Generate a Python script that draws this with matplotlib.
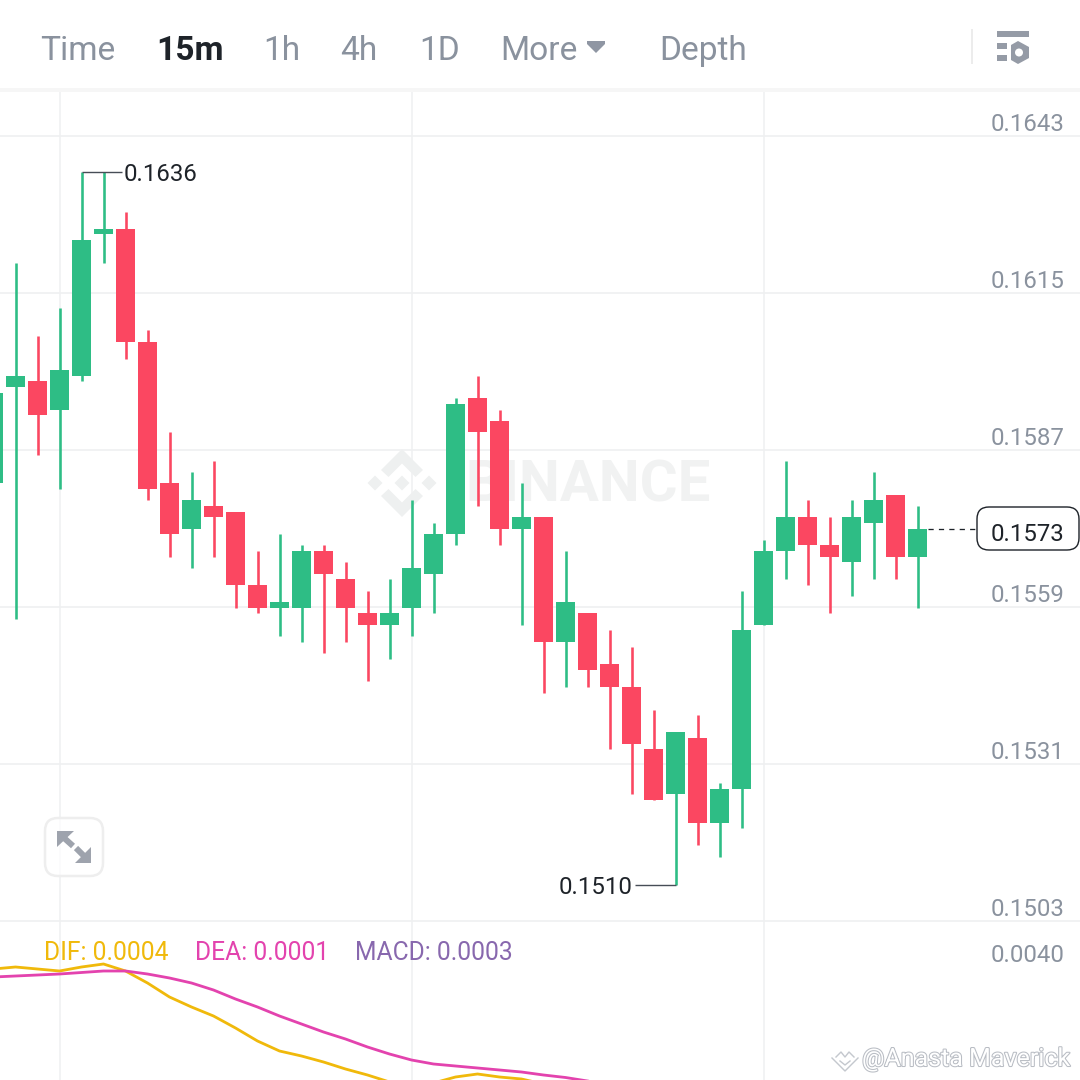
import matplotlib
matplotlib.use("Agg")
import matplotlib.pyplot as plt
import matplotlib.patheffects as pe
from matplotlib.patches import FancyBboxPatch, Polygon, Rectangle, Circle

plt.rcParams['font.family'] = ['Roboto', 'DejaVu Sans']

# ---------- data ----------
opens = [.1581, .1598, .1599, .1594, .1600, .1625, .1626, .1606, .1581, .1573, .1577, .1576, .1563, .1559,
         .1559, .1569, .1564, .1558, .1556, .1559, .1565, .1572, .1596, .1592, .1573, .1575, .1553, .1558,
         .1549, .1545, .1534, .1526, .1536, .1521, .1527, .1556, .1569, .1575, .1570, .1567, .1574, .1579, .1568]
closes = [.1597, .1600, .1593, .1601, .1624, .1626, .1606, .1580, .1572, .1578, .1575, .1563, .1559, .1560,
          .1569, .1565, .1559, .1556, .1558, .1566, .1572, .1595, .1590, .1573, .1575, .1553, .1560, .1548,
          .1545, .1535, .1525, .1537, .1521, .1527, .1555, .1569, .1575, .1570, .1568, .1575, .1578, .1568, .1573]
highs = [.1597, .1620, .1607, .1612, .1636, .1636, .1629, .1608, .1590, .1583, .1585, .1576, .1569, .1572,
         .1570, .1570, .1567, .1562, .1564, .1578, .1574, .1596, .1600, .1594, .1581, .1575, .1569, .1558,
         .1555, .1552, .1541, .1537, .1540, .1528, .1562, .1571, .1585, .1578, .1575, .1578, .1583, .1579, .1577]
lows = [.1581, .1557, .1586, .1580, .1599, .1620, .1603, .1578, .1568, .1566, .1568, .1559, .1558, .1554,
        .1553, .1551, .1553, .1546, .1550, .1554, .1558, .1570, .1577, .1570, .1556, .1544, .1545, .1545,
        .1534, .1526, .1525, .1510, .1517, .1515, .1520, .1556, .1564, .1563, .1558, .1561, .1564, .1564, .1559]
dif = [.00346, .00350, .00346, .00342, .00350, .00356, .00342, .00318, .00290, .00270, .00252, .00228, .00202,
       .00182, .00172, .00160, .00146, .00134, .00120, .00112, .00118, .00130, .00136, .00130, .00126, .00116]
dea = [.00330, .00332, .00334, .00336, .00339, .00342, .00342, .00336, .00328, .00318, .00304, .00286, .00270,
       .00252, .00236, .00220, .00206, .00190, .00176, .00164, .00156, .00152, .00148, .00144, .00140, .00134,
       .00129, .00122]
grid_prices = [.164236, .161462, .158687, .155913, .153139, .150364]
price_labels = ['0.1643', '0.1615', '0.1587', '0.1559', '0.1531', '0.1503']
time_grid = [3, 19, 35]
tabs = ['Time', '15m', '1h', '4h', '1D', 'More', 'Depth']
tab_x = [40, 156, 263, 340, 419, 500, 659]
legend_items = [('DIF: 0.0004', 44, '#F0B90B'), ('DEA: 0.0001', 195, '#E343AE'), ('MACD: 0.0003', 355, '#8868AE')]

GREEN, RED = '#2EBD85', '#FB4761'
GRID = '#EFF0F1'
GRAY = '#8A929E'
DARK = '#1E2329'
W = 1080.0
PX = 0.72  # points per pixel at dpi 100


def ipx(px):
    return (px + 6.5) / 22.0


fig = plt.figure(figsize=(10.8, 10.8), dpi=100, facecolor='white')


def axes_px(top, bottom, z):
    a = fig.add_axes([0, 1 - bottom / W, 1, (bottom - top) / W], zorder=z)
    a.patch.set_visible(False)
    a.axis('off')
    return a


# background layer (watermark, header)
bg = axes_px(0, 1080, 0)
bg.set_xlim(0, 1080)
bg.set_ylim(1080, 0)
bg.text(465, 502, 'BINANCE', fontsize=58 * PX, fontweight='bold', color='#F1F2F2', va='baseline', ha='left')
cx, cy = 402, 483
logo = '#EEF0F0'
for dx, dy in [(0, 0), (-27, 0), (27, 0)]:
    bg.add_patch(Polygon([(cx + dx - 7.5, cy + dy), (cx + dx, cy + dy - 7.5), (cx + dx + 7.5, cy + dy), (cx + dx, cy + dy + 7.5)],
                         fc=logo, ec='none'))
for s in (1, -1):
    bg.add_patch(Polygon([(cx, cy - 34 * s), (cx + 21, cy - 13 * s), (cx + 13.5, cy - 6 * s), (cx, cy - 19.5 * s),
                          (cx - 13.5, cy - 6 * s), (cx - 21, cy - 13 * s)], fc=logo, ec='none'))

# main candlestick pane
ax = axes_px(90, 921, 1)
ax.set_xlim(ipx(0), ipx(1080))
ax.set_ylim(0.1636 - 749 / 56590, 0.1636 + 82 / 56590)
ax.hlines(grid_prices, ipx(0), ipx(1080), color=GRID, lw=1.5 * PX * 1.1, zorder=1, clip_on=False)
ax.vlines(time_grid, ax.get_ylim()[0], ax.get_ylim()[1], color=GRID, lw=1.5 * PX, zorder=1)
for i, (o, c, h, l) in enumerate(zip(opens, closes, highs, lows)):
    col = GREEN if c >= o else RED
    ax.vlines(i, l, h, color=col, lw=2.6 * PX, zorder=3, capstyle='butt')
    ax.bar(i, abs(c - o), bottom=min(o, c), width=19.5 / 22, color=col, zorder=4, linewidth=0)

# high / low callouts
hi_i = highs.index(max(highs))
lo_i = lows.index(min(lows))
ax.plot([hi_i, ipx(122)], [max(highs)] * 2, color='#474D57', lw=1.4 * PX, zorder=5, solid_capstyle='butt')
ax.plot([lo_i, ipx(635)], [min(lows)] * 2, color='#474D57', lw=1.4 * PX, zorder=5, solid_capstyle='butt')
ax.text(ipx(124), max(highs), f'{max(highs):.4f}', color=DARK, fontsize=24 * PX, va='center_baseline', ha='left', zorder=6)
ax.text(ipx(633), min(lows), f'{min(lows):.4f}', color=DARK, fontsize=24 * PX, va='center_baseline', ha='right', zorder=6)

# last-price dashed leader
ax.plot([ipx(928), ipx(977)], [closes[-1]] * 2, color=DARK, lw=1.3 * PX, dashes=(4, 4), zorder=5)

# price axis labels
for p, lab in zip(grid_prices, price_labels):
    ax.annotate(lab, xy=(1065 / 1080, p), xycoords=('axes fraction', 'data'), xytext=(0, 5 * PX),
                textcoords='offset points', ha='right', va='baseline', color=GRAY, fontsize=24 * PX)

# MACD pane
mx = axes_px(921, 1080, 1)
mx.set_xlim(ipx(0), ipx(1080))
mx.set_ylim(0.0040 - 138 * 0.00002, 0.0040 + 21 * 0.00002)
mx.vlines(time_grid, *mx.get_ylim(), color=GRID, lw=1.5 * PX, zorder=1)
mx.plot(range(len(dif)), dif, color='#F0B90B', lw=2.8 * PX, zorder=3)
mx.plot(range(len(dea)), dea, color='#E343AE', lw=2.8 * PX, zorder=4)
mx.annotate('0.0040', xy=(1065 / 1080, 0.0040), xycoords=('axes fraction', 'data'), xytext=(0, -20 * PX),
            textcoords='offset points', ha='right', va='baseline', color=GRAY, fontsize=24 * PX)

# overlay layer in pixel coordinates
top = axes_px(0, 1080, 5)
top.set_xlim(0, 1080)
top.set_ylim(1080, 0)
top.add_patch(Rectangle((0, 88), 1080, 4, fc='#F6F6F6', ec='none'))
for name, x in zip(tabs, tab_x):
    sel = name == '15m'
    top.text(x, 60, name, fontsize=33.5 * PX, color=DARK if sel else GRAY, fontweight='bold' if sel else 'normal',
             ha='left', va='baseline')
top.add_patch(Polygon([(587, 41), (605, 41), (605, 44), (596, 53), (587, 44)], fc='#8F96A3', ec='none'))
top.plot([972, 972], [30, 63], color='#ECECEC', lw=2 * PX)
icon = '#959BA6'
top.add_patch(Rectangle((997, 31), 32, 5.5, fc=icon, ec='none'))
top.add_patch(Rectangle((997, 43), 10, 6, fc=icon, ec='none'))
top.add_patch(Rectangle((997, 55), 10, 6, fc=icon, ec='none'))
top.add_patch(Polygon([(1018, 41), (1029, 47), (1029, 58), (1018, 64), (1011, 60), (1011, 45)], fc=icon, ec='none'))
top.add_patch(Circle((1019, 52.5), 4, fc='white', ec='none'))

# expand button
top.add_patch(FancyBboxPatch((57, 830), 34, 34, boxstyle='round,pad=12,rounding_size=13', fc=(1, 1, 1, 0.75),
                             ec='#EEEEEE', lw=2.5 * PX))
btn = '#9EA3AD'
top.add_patch(Polygon([(57, 831), (74, 831), (57, 847)], fc=btn, ec='none'))
top.add_patch(Polygon([(91, 863), (75, 863), (91, 847)], fc=btn, ec='none'))
top.plot([63, 73], [837, 846], color=btn, lw=6 * PX, solid_capstyle='butt')
top.plot([85, 76], [857, 848], color=btn, lw=6 * PX, solid_capstyle='butt')

# MACD legend
for text, x, col in legend_items:
    top.text(x, 960, text, fontsize=24.6 * PX, color=col, ha='left', va='baseline')

# last-price tag
top.add_patch(FancyBboxPatch((989, 519), 78, 19, boxstyle='round,pad=12,rounding_size=12', fc='white', ec=DARK, lw=1.4 * PX))
top.text(1028, 541, f'{closes[-1]:.4f}', fontsize=24 * PX, color=DARK, ha='center', va='baseline')

# corner watermark
top.text(862, 1066, '@Anasta Maverick', fontsize=25 * PX, color='white', ha='left', va='baseline',
         path_effects=[pe.withStroke(linewidth=1.5, foreground='#B9BDC4')])
wm = '#C4C8CE'
top.plot([832, 845, 858], [1058, 1071, 1058], color=wm, lw=1.4 * PX)
top.plot([836, 841, 845, 849, 854], [1057, 1052, 1057, 1052, 1057], color=wm, lw=1.4 * PX)
top.plot([840, 845, 850], [1061, 1065, 1061], color=wm, lw=1.4 * PX)

fig.savefig('out.png', dpi=100, facecolor='white')
